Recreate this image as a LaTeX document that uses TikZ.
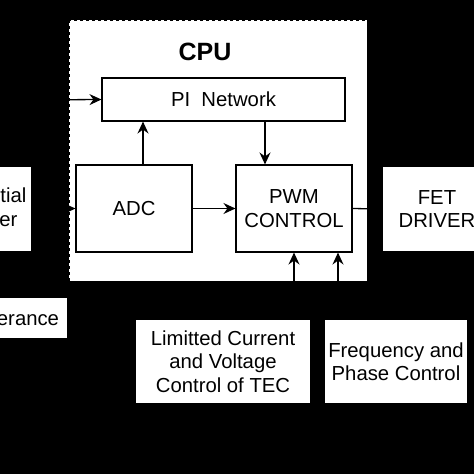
\documentclass[tikz,border=0pt]{standalone}
\usepackage{fontspec}
\setmainfont{Liberation Sans}
\usetikzlibrary{arrows.meta}

\begin{document}
\begin{tikzpicture}[x=1pt, y=-1pt, >={Stealth[length=12pt,width=11pt,inset=4pt]},
    blk/.style={draw=black, fill=white, line width=1.1pt, align=center, inner sep=0pt,
      font={\fontsize{20.3}{23.5}\selectfont}},
    wire/.style={draw=black, line width=1.3pt}]
    \useasboundingbox (0, 0) rectangle (474, 474);
    \clip (0, 0) rectangle (474, 474);
    \fill [black] (0, 0) rectangle (474, 474);

    \draw [fill=white, draw=black, dashed, line width=1pt] (69, 20) rectangle (367, 281);
    \node (cpu) at (205, 52) {\fontsize{25}{30}\selectfont\bfseries CPU};

    \node [blk, minimum width=243, minimum height=43] (pi) at (223.5, 99.5) {PI\ \ Network};
    \node [blk, minimum width=116, minimum height=87] (adc) at (134, 208.5) {ADC};
    \node [blk, minimum width=116, minimum height=87] (pwm) at (294, 208.5) {PWM\\CONTROL};
    \node [blk, minimum width=110, minimum height=86] (fet) at (437, 209) {FET\\DRIVER};
    \node [blk, minimum width=108, minimum height=86] (amp) at (-22, 209) {Differential\\Amplifier};
    \node [blk, minimum width=106, minimum height=42] (tol) at (15, 318) {Tolerance};
    \node [blk, minimum width=176, minimum height=85] (lim) at (223, 361.5) {Limitted Current\\and Voltage\\Control of TEC};
    \node [blk, minimum width=144, minimum height=85] (frq) at (396, 361.5) {Frequency and\\Phase Control};

    \coordinate (ref) at (20, 100);
    \coordinate (j1) at (294, 300);
    \coordinate (j2) at (338, 300);

    \draw [wire, ->] (ref) -- (pi.west);
    \draw [wire, ->] (amp.east) -- (adc.west);
    \draw [wire, ->] ([xshift=9]adc.north) -- ([xshift=9]adc.north |- pi.south);
    \draw [wire, ->] ([xshift=-29]pwm.north |- pi.south) -- ([xshift=-29]pwm.north);
    \draw [wire, ->] (adc.east) -- (pwm.west);
    \draw [wire, ->] (pwm.east) -- (fet.west);
    \draw [wire, ->] (lim.north) |- (j1) -- (j1 |- pwm.south);
    \draw [wire, ->] (frq.north) |- (j2) -- (j2 |- pwm.south);
  \end{tikzpicture}
\end{document}
